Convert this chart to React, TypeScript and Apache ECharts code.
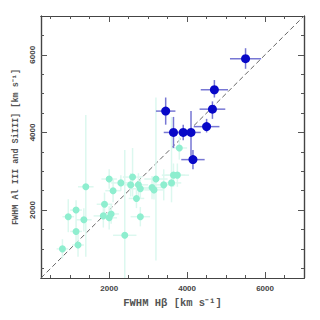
import React, { useEffect, useRef } from "react";
import * as echarts from "echarts";

// Cyan sample (x, y, symmetric x error, y error up, y error down)
const cyanX = [800, 950, 1150, 1150, 1200, 1350, 1400, 1880, 1850, 2000, 2050, 2000, 2100, 2300, 2400, 2600, 2550, 2750, 2700, 2800, 2800, 3100, 3150, 3200, 3400, 3600, 3650, 3750, 3800];
const cyanY = [1000, 1830, 2000, 1450, 1100, 1750, 2600, 2150, 1850, 1800, 1900, 2800, 2500, 2700, 1350, 2850, 2650, 2650, 2300, 2550, 1830, 2580, 2520, 2800, 2650, 2700, 2900, 2900, 3600];
const cyanXErr = [150, 150, 150, 150, 150, 200, 200, 200, 250, 200, 200, 200, 200, 250, 300, 250, 250, 250, 200, 250, 250, 300, 250, 300, 300, 250, 300, 300, 200];
const cyanYErrUp = [250, 450, 250, 300, 300, 300, 1850, 300, 300, 300, 250, 250, 300, 200, 2200, 750, 300, 300, 250, 250, 250, 300, 250, 2100, 400, 1700, 300, 300, 300];
const cyanYErrDown = [250, 400, 250, 300, 300, 300, 1800, 300, 300, 300, 250, 250, 300, 200, 1100, 500, 300, 300, 250, 250, 250, 300, 250, 2100, 400, 500, 300, 300, 300];

// Blue sample
const blueX = [5500, 4700, 4650, 3450, 4500, 3650, 3900, 4100, 4150];
const blueY = [5900, 5100, 4600, 4550, 4150, 4000, 4000, 4000, 3300];
const blueXErr = [400, 350, 330, 250, 330, 250, 150, 250, 300];
const blueYErrUp = [270, 250, 200, 350, 200, 400, 200, 550, 250];
const blueYErrDown = [260, 200, 250, 350, 150, 400, 200, 600, 250];

// One-to-one line
const diagonal = [[250, 250], [7000, 7000]];

const axisMin = 250;
const axisMax = 7000;
const majorTicks = [2000, 4000, 6000];
const minorTicks = [500, 1000, 1500, 2500, 3000, 3500, 4500, 5000, 5500, 6500];

const xTitle = "FWHM Hβ [km s⁻¹]";
const yTitle = "FWHM Al III and SiIII] [km s⁻¹]";

function buildRows(xs: number[], ys: number[], xe: number[], yu: number[], yd: number[]) {
  return xs.map((x, i) => [
    x,
    ys[i],
    Math.max(axisMin, x - xe[i]),
    Math.min(axisMax, x + xe[i]),
    Math.max(axisMin, ys[i] - yd[i]),
    Math.min(axisMax, ys[i] + yu[i]),
  ]);
}

function errorRenderer(color: string, width: number) {
  return (params: any, api: any) => {
    const x = api.value(0);
    const y = api.value(1);
    const a = api.coord([api.value(2), y]);
    const b = api.coord([api.value(3), y]);
    const c = api.coord([x, api.value(4)]);
    const d = api.coord([x, api.value(5)]);
    const style = { stroke: color, lineWidth: width };
    return {
      type: "group",
      children: [
        { type: "line", shape: { x1: a[0], y1: a[1], x2: b[0], y2: b[1] }, style },
        { type: "line", shape: { x1: c[0], y1: c[1], x2: d[0], y2: d[1] }, style },
      ],
    };
  };
}

function makeAxis(kind: "x" | "y", position: string, ticks: number[], len: number, main: boolean) {
  const base: any = {
    type: "value",
    gridIndex: 0,
    position,
    min: axisMin,
    max: axisMax,
    splitLine: { show: false },
    axisLine: { show: true, onZero: false, lineStyle: { color: "#444", width: 1.2 } },
    axisTick: {
      show: true,
      inside: true,
      length: len,
      customValues: ticks,
      lineStyle: { color: "#555", width: 1 },
    },
    axisLabel: { show: false },
  };
  if (main) {
    base.axisLabel = {
      show: true,
      customValues: majorTicks,
      formatter: (v: number) => String(v),
      color: "#444",
      fontSize: 8,
      fontWeight: "bold",
      fontFamily: "Liberation Sans",
      margin: kind === "x" ? 6 : 5,
      rotate: kind === "y" ? 90 : 0,
    };
    base.name = kind === "x" ? xTitle : yTitle;
    base.nameLocation = "middle";
    base.nameGap = kind === "x" ? 19 : 17;
    base.nameTextStyle = {
      color: "#555",
      fontFamily: "Liberation Mono",
      fontSize: kind === "x" ? 10.5 : 8.5,
      fontWeight: "bold",
    };
  }
  return base;
}

export default function App() {
  const ref = useRef<HTMLDivElement>(null);
  useEffect(() => {
    if (!ref.current) return;
    const chart = echarts.init(ref.current, null, { renderer: "svg" });
    const cyanRows = buildRows(cyanX, cyanY, cyanXErr, cyanYErrUp, cyanYErrDown);
    const blueRows = buildRows(blueX, blueY, blueXErr, blueYErrUp, blueYErrDown);
    chart.setOption({
      animation: false,
      backgroundColor: "#fff",
      grid: { left: 41, right: 16, top: 16, bottom: 42 },
      xAxis: [
        makeAxis("x", "bottom", majorTicks, 6, true),
        makeAxis("x", "bottom", minorTicks, 3, false),
        makeAxis("x", "top", majorTicks, 6, false),
        makeAxis("x", "top", minorTicks, 3, false),
      ],
      yAxis: [
        makeAxis("y", "left", majorTicks, 6, true),
        makeAxis("y", "left", minorTicks, 3, false),
        makeAxis("y", "right", majorTicks, 6, false),
        makeAxis("y", "right", minorTicks, 3, false),
      ],
      series: [
        {
          type: "line",
          data: diagonal,
          symbol: "none",
          lineStyle: { color: "#666", width: 1, type: [5, 3] },
          z: 1,
        },
        {
          type: "custom",
          renderItem: errorRenderer("#dcf8ef", 1.5),
          data: cyanRows,
          encode: { x: 0, y: 1 },
          z: 2,
        },
        {
          type: "scatter",
          data: cyanRows.map((r) => [r[0], r[1]]),
          symbolSize: 7,
          itemStyle: { color: "#8eeecf", opacity: 1 },
          z: 3,
        },
        {
          type: "custom",
          renderItem: errorRenderer("#7777d4", 1.5),
          data: blueRows,
          encode: { x: 0, y: 1 },
          z: 4,
        },
        {
          type: "scatter",
          data: blueRows.map((r) => [r[0], r[1]]),
          symbolSize: 9,
          itemStyle: { color: "#0808c8", opacity: 1 },
          z: 5,
        },
      ],
    });
    return () => chart.dispose();
  }, []);
  return <div ref={ref} style={{ width: 320, height: 320, position: "absolute", left: 0, top: 0 }} />;
}
